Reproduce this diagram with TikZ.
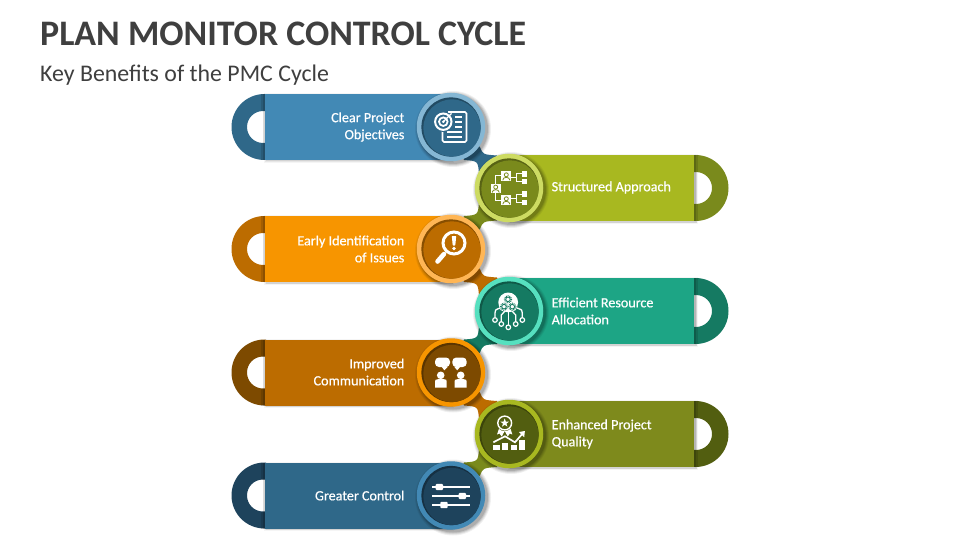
\documentclass[tikz,border=0pt]{standalone}
\usepackage{fontspec}
\setmainfont{Carlito}
\newfontfamily\lblfont[FakeBold=0.55]{Carlito}
\pgfdeclarelayer{page}\pgfdeclarelayer{bg}
\pgfsetlayers{page,bg,main}
\definecolor{titlegray}{HTML}{3F3F3F}
\definecolor{barA}{HTML}{4289B5}\definecolor{darkA}{HTML}{2F6889}\definecolor{rimA}{HTML}{85B7D4}
\definecolor{barB}{HTML}{A8B820}\definecolor{darkB}{HTML}{7A8A1C}\definecolor{rimB}{HTML}{CDDB62}
\definecolor{barC}{HTML}{F79500}\definecolor{darkC}{HTML}{BC6C00}\definecolor{rimC}{HTML}{FFB655}
\definecolor{barD}{HTML}{1DA585}\definecolor{darkD}{HTML}{157A62}\definecolor{rimD}{HTML}{56E0BF}
\definecolor{barE}{HTML}{BC6C00}\definecolor{darkE}{HTML}{7D4A00}\definecolor{rimE}{HTML}{F79500}
\definecolor{barF}{HTML}{7E8A1C}\definecolor{darkF}{HTML}{525E10}\definecolor{rimF}{HTML}{A8B820}
\definecolor{barG}{HTML}{2F6889}\definecolor{darkG}{HTML}{1E435C}\definecolor{rimG}{HTML}{4289B5}
\tikzset{
  barbox/.style={rectangle,inner sep=0pt,minimum width=186pt,minimum height=66pt,fill=#1},
  disc/.style={circle,inner sep=0pt,minimum size=68.5pt,fill=#1},
  lbl/.style={text=white,font=\fontsize{14.1}{17}\selectfont\lblfont,inner sep=0pt},
  lblL/.style={lbl,anchor=east,align=right},
  lblR/.style={lbl,anchor=west,align=left},
  ico/.style={draw=white,line width=1.7pt,fill=none},
}
\newcommand{\capL}[3]{%
  \begin{scope}
    \clip (#1-40,#2-40) rectangle (#1+1,#2+40);
    \fill[#3,even odd rule] (#1-0.5,#2) circle[radius=33] (#1-2,#2) circle[radius=16];
    \fill[black,opacity=.12] (#1-4,#2-33) rectangle (#1+1,#2-16);
    \fill[black,opacity=.12] (#1-4,#2+16) rectangle (#1+1,#2+33);
    \fill[black,opacity=.14] (#1-2,#2-33) rectangle (#1+1,#2-16);
    \fill[black,opacity=.14] (#1-2,#2+16) rectangle (#1+1,#2+33);
    \fill[black,opacity=.14] (#1-2,#2-16) rectangle (#1+1,#2+16);
  \end{scope}}
\newcommand{\capR}[3]{%
  \begin{scope}
    \clip (#1-1,#2-40) rectangle (#1+40,#2+40);
    \fill[#3,even odd rule] (#1+1.5,#2) circle[radius=33] (#1+2,#2) circle[radius=16];
    \fill[black,opacity=.12] (#1-1,#2-33) rectangle (#1+4,#2-16);
    \fill[black,opacity=.12] (#1-1,#2+16) rectangle (#1+4,#2+33);
    \fill[black,opacity=.14] (#1-1,#2-33) rectangle (#1+2,#2-16);
    \fill[black,opacity=.14] (#1-1,#2+16) rectangle (#1+2,#2+33);
    \fill[black,opacity=.14] (#1-1,#2-16) rectangle (#1+2,#2+16);
  \end{scope}}
\newcommand{\softbar}[4]{%
  \foreach \d/\o in {2/.04,1.2/.06,.5/.08}{\fill[black,opacity=\o] (#1-\d+1,#2-\d+1) rectangle (#3+\d+1,#4+\d+1);}}
\newcommand{\softdisc}[2]{%
  \foreach \d/\o in {4/.06,3/.08,2/.10,1/.12}{\fill[black,opacity=\o] (#1+2,#2+2) circle[radius=34+\d];}}
\newcommand{\hub}[5]{%
  \softdisc{#2}{#3}
  \node[disc=#4] (#1) at (#2,#3) {};
  \fill[#5!72!black] (#2,#3) circle[radius=29.6];
  \fill[#5] (#2+1,#3+1) circle[radius=28.6];}
\newcommand{\neck}[4]{%
  \begin{pgfonlayer}{bg}
  \begin{scope}[shift={(#1.center)},yscale=#4]
    \fill[#3] (0,0) -- (29,20) .. controls (32,27.5) .. (46,28.5) -- (58,61)
      -- (28,47) .. controls (27,34) .. (13,33) -- cycle;
  \end{scope}
  \path (#2.center);
  \end{pgfonlayer}}
\begin{document}
\begin{tikzpicture}[x=1pt,y=-1pt]
\begin{pgfonlayer}{page}
\fill[white] (0,0) rectangle (960,540);
\end{pgfonlayer}
\useasboundingbox (0,0) rectangle (960,540);

\node[anchor=base west,inner sep=0pt,text=titlegray,font=\fontsize{35.9}{40}\selectfont\bfseries] (title) at (40,46) {PLAN MONITOR CONTROL CYCLE};
\node[anchor=base west,inner sep=0pt,text=titlegray,font=\fontsize{23.85}{28}\selectfont] (subtitle) at (40,81.5) {Key Benefits of the PMC Cycle};

\softbar{265}{94}{451}{160}
\capL{265}{127}{darkA}
\node[barbox=barA] (b1) at (358,127) {};
\softbar{509}{155}{695}{221}
\capR{694}{188}{darkB}
\node[barbox=barB] (b2) at (601,188) {};
\softbar{265}{216}{451}{282}
\capL{265}{249}{darkC}
\node[barbox=barC] (b3) at (358,249) {};
\softbar{509}{278}{695}{344}
\capR{694}{311}{darkD}
\node[barbox=barD] (b4) at (601,311) {};
\softbar{265}{340}{451}{405}
\capL{265}{372.5}{darkE}
\node[barbox=barE] (b5) at (358,372.5) {};
\softbar{509}{401}{695}{467}
\capR{694}{434}{darkF}
\node[barbox=barF] (b6) at (601,434) {};
\softbar{265}{463}{451}{528}
\capL{265}{495.5}{darkG}
\node[barbox=barG] (b7) at (358,495.5) {};

\hub{c1}{451}{127}{rimA}{darkA}
\hub{c2}{509}{188}{rimB}{darkB}
\hub{c3}{451}{249}{rimC}{darkC}
\hub{c4}{509}{311}{rimD}{darkD}
\hub{c5}{451}{372.5}{rimE}{darkE}
\hub{c6}{509}{434}{rimF}{darkF}
\hub{c7}{451}{495.5}{rimG}{darkG}

\neck{c1}{c2}{darkA}{1}
\neck{c3}{c2}{darkB}{-1}
\neck{c3}{c4}{darkC}{1}
\neck{c5}{c4}{darkD}{-1}
\neck{c5}{c6}{darkC}{1}
\neck{c7}{c6}{darkB}{-1}

\node[lblL] (t1) at (404.5,127) {Clear Project\\Objectives};
\node[lblR] (t2) at (551.5,187.5) {Structured Approach};
\node[lblL] (t3) at (404.5,249) {Early Identification\\of Issues};
\node[lblR] (t4) at (551.5,311) {Efficient Resource\\Allocation};
\node[lblL] (t5) at (404.5,372) {Improved\\Communication};
\node[lblR] (t6) at (551.5,434) {Enhanced Project\\Quality};
\node[lblL] (t7) at (404.5,495.5) {Greater Control};

% icon 1
\begin{scope}[shift={(c1.center)}]
  \draw[ico,rounded corners=1.5pt] (-3,-15) -- (15.5,-15) -- (15.5,15) -- (-8.5,15) -- (-8.5,4);
  \foreach \yy in {-10.3,-5.3,-0.3}{\draw[white,line width=1.7pt] (4,\yy) -- (11,\yy);}
  \foreach \yy in {4.7,9.7}{\draw[white,line width=1.7pt] (-4.3,\yy) -- (11,\yy);}
  \fill[darkA] (-7.7,-5.3) circle[radius=10.3];
  \draw[white,line width=2pt] (-7.7,-5.3) circle[radius=8.2];
  \draw[white,line width=1.8pt] (-7.7,-5.3) circle[radius=4.3];
  \fill[white] (-7.7,-5.3) circle[radius=1.5];
  \draw[white,line width=1.4pt] (-7.7,-5.3) -- (0.5,-13.5);
\end{scope}

% icon 2
\begin{scope}[shift={(c2.center)}]
  \foreach \px/\py in {-2.7/-12,-13.3/0.3,-2.7/12}{
    \fill[white] (\px-5,\py-4.7) rectangle (\px+5,\py+4.7);
    \draw[darkB,line width=.8pt] (\px,\py-1.2) circle[radius=2];
    \draw[darkB,line width=.8pt] (\px-3.6,\py+4.2) .. controls (\px-3.3,\py+.4) and (\px+3.3,\py+.4) .. (\px+3.6,\py+4.2);
  }
  \foreach \qy in {-14,-6.3,6,14.7}{\fill[white] (13,\qy-2.6) rectangle (18,\qy+2.6);}
  \draw[white,line width=1pt] (-13.3,-4.5) -- (-13.3,-12) -- (-7.7,-12);
  \draw[white,line width=1pt] (-13.3,5) -- (-13.3,12) -- (-7.7,12);
  \draw[white,line width=1pt] (2.3,-10) -- (7.7,-10) (13,-14) -- (7.7,-14) -- (7.7,-6.3) -- (13,-6.3);
  \draw[white,line width=1pt] (2.3,10.3) -- (7.7,10.3) (13,6) -- (7.7,6) -- (7.7,14.7) -- (13,14.7);
\end{scope}

% icon 3
\begin{scope}[shift={(c3.center)}]
  \draw[white,line width=3pt] (3,-6) circle[radius=11];
  \draw[white,line width=4.6pt,line cap=round] (-7,5) -- (-13.5,12.5);
  \fill[white,rounded corners=.6pt] (0.8,-13) -- (5.2,-13) -- (4.3,-3.5) -- (1.7,-3.5) -- cycle;
  \fill[white] (3,-0.5) circle[radius=1.9];
\end{scope}

% icon 4
\begin{scope}[shift={(c4.center)}]
  \draw[white,line width=1.3pt] (-14,6.5) -- (-14,2) .. controls (-14,-1) .. (-9,-3);
  \draw[white,line width=1.3pt] (-7.7,10.5) -- (-7.7,4) -- (-4,0);
  \draw[white,line width=1.3pt] (-0.7,14) -- (-0.7,-1);
  \draw[white,line width=1.3pt] (6.7,10.5) -- (6.7,4) -- (3,0);
  \draw[white,line width=1.3pt] (13.3,6.5) -- (13.3,2) .. controls (13.3,-1) .. (8,-3);
  \fill[white] (-0.8,-8.6) circle[radius=9.9];
  \foreach \gx/\gy in {-1/-11.7,-5/-4.3,3.3/-4.3}{
    \fill[white] (\gx,\gy) circle[radius=4.8];
    \draw[darkD,line width=1pt,dash pattern=on .9pt off .9pt] (\gx,\gy) circle[radius=3.6];
    \draw[darkD,line width=.9pt] (\gx,\gy) circle[radius=2.3];
  }
  \foreach \nx/\ny in {-14/9,-7.7/13,-0.7/16.3,6.7/13,13.3/9}{
    \draw[white,line width=1.2pt] (\nx,\ny) circle[radius=2.3];
  }
\end{scope}

% icon 5
\begin{scope}[shift={(c5.center)}]
  \fill[white,rounded corners=4pt] (-16,-15) rectangle (-1,-5.5);
  \fill[white] (-9.5,-6) -- (-3,-6) -- (-6.7,-2.2) -- cycle;
  \fill[white,rounded corners=4pt] (1.3,-15) rectangle (15.7,-5.5);
  \fill[white] (3,-6) -- (9.5,-6) -- (6.2,-2.2) -- cycle;
  \fill[white] (-10.3,2.8) circle[radius=3.8];
  \fill[white] (9.7,2.8) circle[radius=3.8];
  \fill[white] (-16,15) -- (-16,10) .. controls (-16,7) .. (-13,6.7) -- (-7,6.7) .. controls (-4.3,7) .. (-4.3,10) -- (-4.3,15) -- cycle;
  \fill[white] (3.5,15) -- (3.5,10) .. controls (3.5,7) .. (6.5,6.7) -- (12.7,6.7) .. controls (15.7,7) .. (15.7,10) -- (15.7,15) -- cycle;
\end{scope}

% icon 6
\begin{scope}[shift={(c6.center)}]
  \fill[white] (-9.5,-7) -- (-12,0.5) -- (-9.5,-0.5) -- (-7.3,2.5) -- (-4.3,-3) -- (-1.3,2.5) -- (.9,-.5) -- (3.3,.5) -- (1,-7) -- cycle;
  \fill[darkF] (-4.3,-11) circle[radius=8.1];
  \draw[white,line width=1.4pt] (-4.3,-11) circle[radius=6.9];
  \fill[white,shift={(-4.3,-11)}] (0,-4.6) -- (1.1,-1.4) -- (4.4,-1.4) -- (1.7,.6) -- (2.7,3.7)
     -- (0,1.8) -- (-2.7,3.7) -- (-1.7,.6) -- (-4.4,-1.4) -- (-1.1,-1.4) -- cycle;
  \foreach \xa/\xb/\yt in {-15.7/-9/10.7,-6.7/-1/9,2.3/7.7/10.7,9.7/15.7/6.3}{
    \fill[white] (\xa,\yt) rectangle (\xb,16.4);
  }
  \draw[white,line width=1.7pt] (-15.7,8.3) -- (-4,2.3) -- (6,8.3) -- (14,-1);
  \fill[white] (10,-2) -- (15.9,-3) -- (15.2,3.3) -- cycle;
\end{scope}

% icon 7
\begin{scope}[shift={(c7.center)}]
  \foreach \yy/\kx in {-8.5/-11.7,0.5/11.3,9.5/-7}{
    \fill[white] (-18.7,\yy-1.25) rectangle (19,\yy+1.25);
    \fill[white,rounded corners=1pt] (\kx-3.7,\yy-3.1) rectangle (\kx+3.7,\yy+3.1);
  }
\end{scope}
\end{tikzpicture}
\end{document}
